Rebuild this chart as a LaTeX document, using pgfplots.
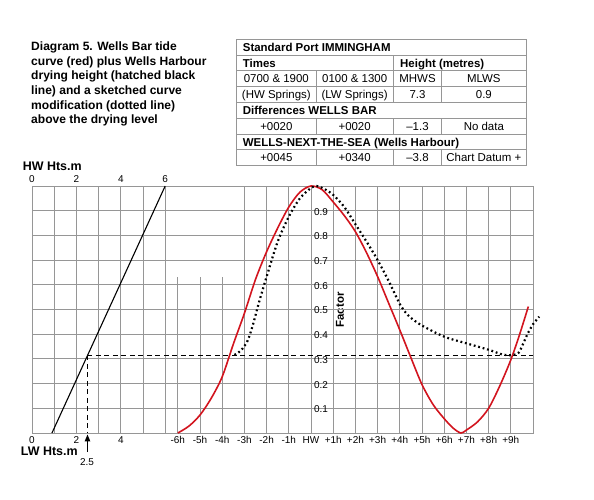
\documentclass[border=0pt]{standalone}
\usepackage{fontspec}
\setmainfont{Liberation Sans}
\usepackage{pgfplots}
\usepackage{pgfplotstable}
\pgfplotsset{compat=1.18}
\usetikzlibrary{arrows.meta}
\definecolor{tidered}{RGB}{210,20,30}
\definecolor{gridgray}{RGB}{150,150,150}
\pgfplotstableread{
h f
-6.0 0.0
-5.5 0.028
-5.0 0.073
-4.5 0.14
-4.0 0.228
-3.5 0.36
-3.0 0.485
-2.5 0.622
-2.0 0.734
-1.5 0.83
-1.0 0.915
-0.5 0.975
0.0 1.0
0.5 0.985
1.0 0.935
1.5 0.88
2.0 0.815
2.5 0.73
3.0 0.633
3.5 0.525
4.0 0.417
4.5 0.305
5.0 0.196
5.5 0.115
6.0 0.058
6.4 0.02
6.75 0.0
7.0 0.012
7.5 0.045
8.0 0.1
8.5 0.19
9.0 0.296
9.4 0.40
9.79 0.512
}\redcurve
\pgfplotstableread{
h f
-3.45 0.316
-3.15 0.335
-2.85 0.375
-2.6 0.444
-2.35 0.527
-2.0 0.633
-1.5 0.775
-1.0 0.876
-0.5 0.95
0.0 0.992
0.25 1.0
0.6 0.988
1.0 0.964
1.5 0.915
2.0 0.845
2.5 0.775
3.0 0.70
3.5 0.615
3.75 0.568
4.0 0.522
4.25 0.489
4.5 0.466
5.0 0.435
6.0 0.39
7.0 0.363
8.0 0.337
8.66 0.317
9.1 0.316
9.35 0.325
9.55 0.36
9.75 0.40
10.0 0.44
10.28 0.471
}\dottedcurve
\pgfplotstableread{
m f
0.9 0
6.0 1
}\heightline
\begin{document}
\begin{tikzpicture}
\useasboundingbox (0,0) rectangle (594bp,500bp);
% title
\node[anchor=north west, align=left, inner sep=0, font=\bfseries\fontsize{12.1}{14.7}\selectfont] at (31bp,458.3bp)
{Diagram 5. Wells Bar tide\\curve (red) plus Wells Harbour\\drying height (hatched black\\line) and a sketched curve\\modification (dotted line)\\above the drying level};
% table
\begin{scope}[gridgray, line width=0.8bp]
\draw (236.7bp,334.3bp) rectangle (526bp,460.7bp);
\foreach \yy in {444.9,429.1,413.3,397.5,381.7,365.9,350.1} \draw (236.7bp,\yy bp) -- (526bp,\yy bp);
\draw (393.3bp,444.9bp) -- (393.3bp,397.5bp);
\foreach \xx in {316,441.7} \draw (\xx bp,429.1bp) -- (\xx bp,397.5bp);
\foreach \xx in {316,393.3,441.7} {\draw (\xx bp,381.7bp) -- (\xx bp,365.9bp); \draw (\xx bp,350.1bp) -- (\xx bp,334.3bp);}
\end{scope}
\begin{scope}[every node/.style={inner sep=0, anchor=base, font=\fontsize{11.5}{13}\selectfont}]
\node[anchor=base west, font=\bfseries\fontsize{11.5}{13}\selectfont] at (242.7bp,448.7bp) {Standard Port IMMINGHAM};
\node[anchor=base west, font=\bfseries\fontsize{11.5}{13}\selectfont] at (242.7bp,432.9bp) {Times};
\node[anchor=base west, font=\bfseries\fontsize{11.5}{13}\selectfont] at (400bp,432.9bp) {Height (metres)};
\node at (276.35bp,417.1bp) {0700 \& 1900};
\node at (354.65bp,417.1bp) {0100 \& 1300};
\node at (417.5bp,417.1bp) {MHWS};
\node at (483.85bp,417.1bp) {MLWS};
\node at (276.35bp,401.3bp) {(HW Springs)};
\node at (354.65bp,401.3bp) {(LW Springs)};
\node at (417.5bp,401.3bp) {7.3};
\node at (483.85bp,401.3bp) {0.9};
\node[anchor=base west, font=\bfseries\fontsize{11.5}{13}\selectfont] at (242.7bp,385.5bp) {Differences WELLS BAR};
\node at (276.35bp,369.7bp) {+0020};
\node at (354.65bp,369.7bp) {+0020};
\node at (417.5bp,369.7bp) {\char"2013 1.3};
\node at (483.85bp,369.7bp) {No data};
\node[anchor=base west, font=\bfseries\fontsize{11.5}{13}\selectfont] at (242.7bp,353.9bp) {WELLS-NEXT-THE-SEA (Wells Harbour)};
\node at (276.35bp,338.1bp) {+0045};
\node at (354.65bp,338.1bp) {+0340};
\node at (417.5bp,338.1bp) {\char"2013 3.8};
\node at (483.85bp,338.1bp) {Chart Datum +};
\end{scope}
% side labels
\node[anchor=west, inner sep=0, font=\bfseries\fontsize{12.5}{14}\selectfont] at (22.7bp,333.3bp) {HW Hts.m};
\node[anchor=west, inner sep=0, font=\bfseries\fontsize{12.5}{14}\selectfont] at (20.7bp,48.3bp) {LW Hts.m};
\node[inner sep=0, font=\fontsize{10}{12}\selectfont] at (87bp,38.3bp) {2.5};
\node[rotate=90, inner sep=0, font=\bfseries\fontsize{11.5}{13}\selectfont] at (340bp,190bp) {Factor};
\begin{axis}[
  at={(32bp,67bp)}, anchor=south west, scale only axis,
  width=501bp, height=247bp,
  xmin=-12.57, xmax=10, ymin=0, ymax=1,
  clip=false,
  axis line style={gridgray, line width=0.9bp},
  xtick={-12.57,-11.57,-10.57,-9.57,-8.57,-7.57,-6.57,-3,-2,-1,0,1,2,3,4,5,6,7,8,9,10},
  xticklabels={0,,2,,4,,,-3h,-2h,-1h,HW,+1h,+2h,+3h,+4h,+5h,+6h,+7h,+8h,+9h,},
  extra x ticks={-6,-5,-4},
  extra x tick labels={-6h,-5h,-4h},
  extra x tick style={grid=none},
  ytick={0.1,0.2,0.3,0.4,0.5,0.6,0.7,0.8,0.9},
  yticklabels={},
  major tick length=0,
  tick style={draw=none},
  xmajorgrids, ymajorgrids,
  grid style={gridgray, line width=0.9bp},
  xticklabel style={font=\fontsize{10}{12}\selectfont, anchor=base, yshift=-10.5bp},
]
\draw[gridgray, line width=0.9bp] (axis cs:-6,0) -- (axis cs:-6,0.63);
\draw[gridgray, line width=0.9bp] (axis cs:-5,0) -- (axis cs:-5,0.63);
\draw[gridgray, line width=0.9bp] (axis cs:-4,0) -- (axis cs:-4,0.63);
% top labels (HW heights)
\node[anchor=base, inner sep=0, yshift=3.5bp, font=\fontsize{10}{12}\selectfont] at (axis cs:-12.57,1) {0};
\node[anchor=base, inner sep=0, yshift=3.5bp, font=\fontsize{10}{12}\selectfont] at (axis cs:-10.57,1) {2};
\node[anchor=base, inner sep=0, yshift=3.5bp, font=\fontsize{10}{12}\selectfont] at (axis cs:-8.57,1) {4};
\node[anchor=base, inner sep=0, yshift=3.5bp, font=\fontsize{10}{12}\selectfont] at (axis cs:-6.57,1) {6};
% factor labels
\pgfplotsinvokeforeach{0.1,0.2,0.3,0.4,0.5,0.6,0.7,0.8,0.9}{
  \node[anchor=west, inner sep=0, yshift=-1bp, font=\fontsize{10}{12}\selectfont] at (axis cs:0.13,#1) {#1};
}
% drying height construction
\addplot[black, line width=1.1bp] table[x expr=\thisrow{m}-12.57, y=f] {\heightline};
\addplot[black, line width=1.1bp, dash pattern=on 5bp off 3.5bp] coordinates {(-10.07,0.314) (10,0.314)};
\addplot[black, line width=1.1bp, dash pattern=on 5bp off 3.5bp] coordinates {(-10.07,0.314) (-10.07,0)};
\draw[black, line width=1.1bp, -{Triangle[width=5.5bp,length=7bp]}] (axis cs:-10.07,-0.077) -- (axis cs:-10.07,-0.006);
% curves
\addplot[tidered, line width=1.6bp, smooth] table[x=h, y=f] {\redcurve};
\addplot[black, line width=2.2bp, dash pattern=on 1.8bp off 2.8bp, smooth] table[x=h, y=f] {\dottedcurve};
\end{axis}
\end{tikzpicture}
\end{document}
